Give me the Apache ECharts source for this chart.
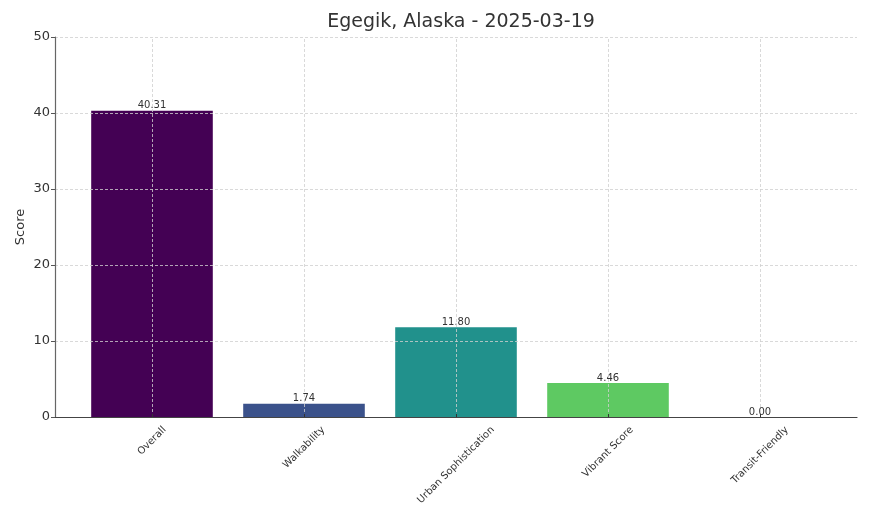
<!DOCTYPE html>
<html>
<head>
	<title></title>
	<script src="https://cdn.jsdelivr.net/npm/echarts@6/dist/echarts.min.js"></script>
	<style>
	html, body { margin: 0; padding: 0; background: #fff; }
	#main { width: 870px; height: 522px; }
	</style>
</head>
<body>
	<div id="main"></div>
	<script>
		var categories = ['Overall', 'Walkability', 'Urban Sophistication', 'Vibrant Score', 'Transit-Friendly'];
		var scores = [40.31, 1.74, 11.80, 4.46, 0.00];
		var barColors = ['#440154', '#3b528b', '#21918c', '#5ec962', '#fde725'];
		var yTicks = [0, 10, 20, 30, 40, 50];
		var titleText = 'Egegik, Alaska - 2025-03-19';

		var FONT = 'DejaVu Sans';
		var labelSize = 10, labelLine = 12;

		var myChart = echarts.init(document.getElementById('main'));

		var gridTop = 37, gridBottom = 105;
		var option = {
			animation: false,
			title: {
				text: titleText,
				left: 456, top: -2, textAlign: 'center',
				textStyle: { fontFamily: FONT, fontSize: 19, fontWeight: 'normal', color: '#333' }
			},
			grid: [
				{ left: 55, right: 13, top: gridTop, bottom: gridBottom, outerBoundsMode: 'none', containLabel: false },
				{ left: 76, right: 34, top: gridTop, bottom: gridBottom, outerBoundsMode: 'none', containLabel: false }
			],
			xAxis: [
				{
					gridIndex: 0, type: 'value', min: 0, max: 1, z: 5,
					axisLine: { show: true, lineStyle: { color: '#444', width: 1.2 } },
					axisTick: { show: false }, axisLabel: { show: false }, splitLine: { show: false }
				},
				{
					gridIndex: 1, type: 'category', data: categories, z: 5,
					axisLine: { show: false },
					axisTick: { show: true, inside: true, length: 3, alignWithLabel: true, lineStyle: { color: '#333' } },
					axisLabel: { show: false },
					splitLine: { show: false }
				}
			],
			yAxis: [
				{
					gridIndex: 0, type: 'value', min: yTicks[0], max: yTicks[yTicks.length - 1], interval: 10, z: 5,
					axisLine: { show: true, lineStyle: { color: '#666', width: 1.2 } },
					axisTick: { show: true, length: 4, lineStyle: { color: '#555' } },
					axisLabel: { fontFamily: FONT, fontSize: 13, color: '#333', margin: 5 },
					splitLine: { show: true, lineStyle: { color: '#cfcfcf', type: [3, 2], width: 0.8 } }
				},
				{
					// carries only the axis title, so it is not pushed around by the tick labels
					gridIndex: 1, type: 'value', min: yTicks[0], max: yTicks[yTicks.length - 1],
					name: 'Score', nameLocation: 'middle', nameGap: 42, nameRotate: 90,
					nameTextStyle: { fontFamily: FONT, fontSize: 13, color: '#333' },
					axisLine: { show: false }, axisTick: { show: false },
					axisLabel: { show: false }, splitLine: { show: false }
				}
			],
			series: [{
				type: 'bar',
				xAxisIndex: 1, yAxisIndex: 1,
				barWidth: '80%',
				data: scores.map(function (v, i) {
					return { value: v, itemStyle: { color: barColors[i] } };
				}),
				label: {
					show: true, position: 'top', distance: -5,
					fontFamily: FONT, fontSize: 10, color: '#333',
					formatter: function (p) { return p.value.toFixed(2); }
				},
				markLine: {
					silent: true, symbol: 'none', label: { show: false },
					lineStyle: { color: '#cfcfcf', type: [3, 2], width: 0.8 },
					data: categories.map(function (c) { return { xAxis: c }; })
				}
			}]
		};
		myChart.setOption(option);

		// x tick labels: rotated 45deg and centred under each tick, like matplotlib
		var ctx = document.createElement('canvas').getContext('2d');
		ctx.font = labelSize + 'px "' + FONT + '"';
		var c45 = Math.SQRT1_2;
		var labels = categories.map(function (name, i) {
			var pt = myChart.convertToPixel({ xAxisIndex: 1, yAxisIndex: 1 }, [i, 0]);
			var w = ctx.measureText(name).width;
			var half = (w + labelLine) * c45 / 2;
			return {
				type: 'text',
				x: pt[0], y: pt[1] + 7 + half,
				rotation: Math.PI / 4,
				silent: true,
				style: {
					text: name, x: 0, y: 0, align: 'center', verticalAlign: 'middle',
					font: labelSize + 'px "' + FONT + '"', fill: '#333'
				}
			};
		});
		myChart.setOption({ graphic: labels });
	</script>
</body>
</html>
